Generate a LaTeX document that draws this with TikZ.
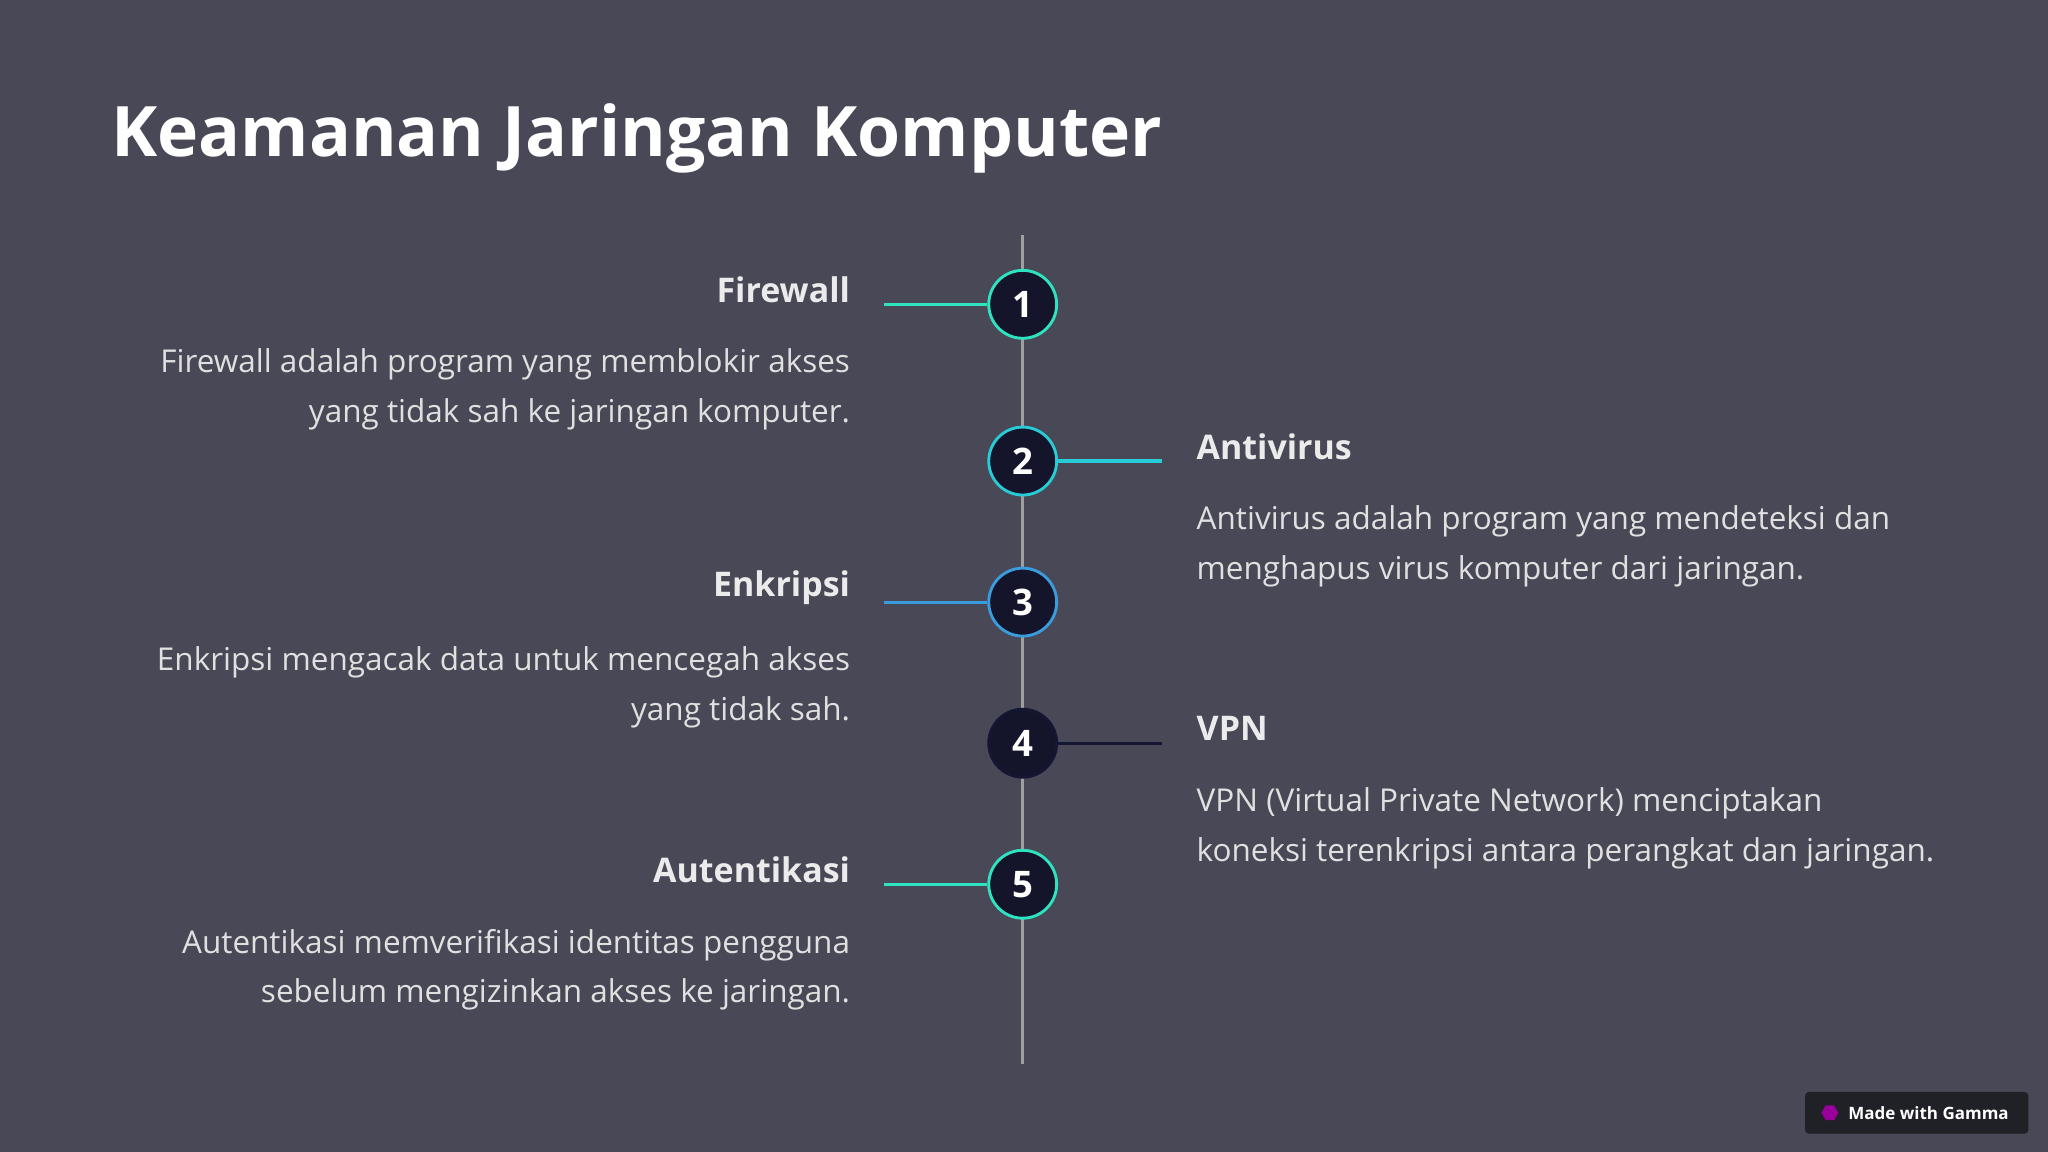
\documentclass[tikz,border=0pt]{standalone}
\usetikzlibrary{shapes.geometric}
\usepackage{fontspec}
\setmainfont{Open Sans}
\begin{document}
\begin{tikzpicture}[x=1pt,y=-1pt,
  ttl/.style={text=white,font=\fontsize{53.3}{60}\selectfont\bfseries,anchor=west,inner sep=0},
  hd/.style={text=white!92!black,font=\fontsize{26}{32}\selectfont\bfseries,inner sep=0},
  bd/.style={text=white!88!black,font=\fontsize{24.1}{38}\selectfont,inner sep=0},
  num/.style={circle,minimum size=52,line width=2.2pt,text=white,font=\fontsize{28}{30}\selectfont\bfseries},
  conn/.style={line width=2.4pt}]
\definecolor{bg}{HTML}{484856}
\definecolor{cA}{HTML}{2DE3C0}
\definecolor{cB}{HTML}{28CCD6}
\definecolor{cC}{HTML}{3A9CDC}
\definecolor{cD}{HTML}{141634}
\definecolor{nfill}{HTML}{14142A}
\fill[bg] (0,0) rectangle (1568,882);
\useasboundingbox (0,0) rectangle (1568,882);
\node[ttl] (title) at (85,106) {Keamanan Jaringan Komputer};
\coordinate (lt) at (783,180); \coordinate (lb) at (783,815);
\draw[line width=2.2pt,color=gray!75] (lt) -- (lb);
% circles
\node[num,draw=cA,fill=nfill] (n1) at (783,233) {1};
\node[num,draw=cB,fill=nfill] (n2) at (783,353) {2};
\node[num,draw=cC,fill=nfill] (n3) at (783,461) {3};
\node[num,draw=cD,fill=nfill] (n4) at (783,569) {4};
\node[num,draw=cA,fill=nfill] (n5) at (783,677) {5};
\coordinate (e1) at (677,233); \coordinate (e2) at (890,353);
\coordinate (e3) at (677,461); \coordinate (e4) at (890,569);
\coordinate (e5) at (677,677);
\draw[conn,cA] (e1) -- (n1);
\draw[conn,cB] (n2) -- (e2);
\draw[conn,cC] (e3) -- (n3);
\draw[conn,cD] (n4) -- (e4);
\draw[conn,cA] (e5) -- (n5);
% left texts
\node[hd,anchor=east] (h1) at (651,222) {Firewall};
\node[bd,anchor=north east,align=right] (b1) at (651,267) {Firewall adalah program yang memblokir akses\\yang tidak sah ke jaringan komputer.};
\node[hd,anchor=east] (h3) at (651,450) {Enkripsi};
\node[bd,anchor=north east,align=right] (b3) at (651,495) {Enkripsi mengacak data untuk mencegah akses\\yang tidak sah.};
\node[hd,anchor=east] (h5) at (651,666) {Autentikasi};
\node[bd,anchor=north east,align=right] (b5) at (651,711) {Autentikasi memverifikasi identitas pengguna\\sebelum mengizinkan akses ke jaringan.};
% right texts
\node[hd,anchor=west] (h2) at (916,342) {Antivirus};
\node[bd,anchor=north west,align=left] (b2) at (916,387) {Antivirus adalah program yang mendeteksi dan\\menghapus virus komputer dari jaringan.};
\node[hd,anchor=west] (h4) at (916,558) {VPN};
\node[bd,anchor=north west,align=left] (b4) at (916,603) {VPN (Virtual Private Network) menciptakan\\koneksi terenkripsi antara perangkat dan jaringan.};
% badge
\fill[rounded corners=3,color=black!55!bg] (1382,836) rectangle (1553,868);
\node[text=white,font=\fontsize{13}{14}\selectfont\bfseries,anchor=west,inner sep=0] (badge) at (1415,852) {Made with Gamma};
\node[regular polygon,regular polygon sides=6,fill=violet!80!magenta,minimum size=13,inner sep=0] (logo) at (1401,852) {};
\end{tikzpicture}
\end{document}
